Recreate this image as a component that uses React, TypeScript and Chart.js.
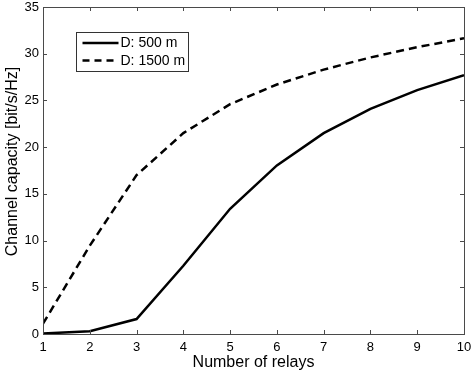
import React, { useEffect, useRef } from "react";
import { Chart, registerables } from "chart.js";

Chart.register(...registerables);

const relays = [1, 2, 3, 4, 5, 6, 7, 8, 9, 10];
const cap500 = [0.05, 0.3, 1.6, 7.3, 13.4, 18.05, 21.5, 24.1, 26.1, 27.7];
const cap1500 = [1.1, 9.45, 17.0, 21.5, 24.6, 26.7, 28.3, 29.6, 30.7, 31.65];
const seriesLabels = ["D: 500 m", "D: 1500 m"];
const xTitle = "Number of relays";
const yTitle = "Channel capacity [bit/s/Hz]";

const FONT = "'Liberation Sans', Arial, Helvetica, sans-serif";
const AXIS = "#4a4a4a";

const framePlugin = {
  id: "frame",
  afterDraw(chart: any) {
    const { ctx, chartArea: a, scales } = chart;
    ctx.save();
    ctx.strokeStyle = AXIS;
    ctx.lineWidth = 1;
    ctx.strokeRect(Math.round(a.left) + 0.5, Math.round(a.top) + 0.5, Math.round(a.right - a.left), Math.round(a.bottom - a.top));
    const tl = 4;
    ctx.beginPath();
    scales.x.ticks.forEach((t: any) => {
      const px = Math.round(scales.x.getPixelForValue(t.value)) + 0.5;
      ctx.moveTo(px, a.bottom);
      ctx.lineTo(px, a.bottom - tl);
      ctx.moveTo(px, a.top);
      ctx.lineTo(px, a.top + tl);
    });
    scales.y.ticks.forEach((t: any) => {
      const py = Math.round(scales.y.getPixelForValue(t.value)) + 0.5;
      ctx.moveTo(a.left, py);
      ctx.lineTo(a.left + tl, py);
      ctx.moveTo(a.right, py);
      ctx.lineTo(a.right - tl, py);
    });
    ctx.stroke();

    // y-axis title (MATLAB places it slightly above the plot centre)
    ctx.save();
    ctx.translate(16.5, a.top + (a.bottom - a.top) / 2 - 9);
    ctx.rotate(-Math.PI / 2);
    ctx.fillStyle = "#000";
    ctx.font = `16px ${FONT}`;
    ctx.textAlign = "center";
    ctx.textBaseline = "alphabetic";
    ctx.fillText(yTitle, 0, 0);
    ctx.restore();

    // legend inside the plot
    const lx = Math.round(a.left + 33) + 0.5;
    const ly = Math.round(a.top + 25) + 0.5;
    const lw = 112;
    const lh = 39;
    ctx.fillStyle = "#fff";
    ctx.fillRect(lx, ly, lw, lh);
    ctx.strokeStyle = "#333";
    ctx.strokeRect(lx, ly, lw, lh);
    const rows = [
      { label: seriesLabels[0], dash: [] as number[] },
      { label: seriesLabels[1], dash: [7, 5] },
    ];
    rows.forEach((r, i) => {
      const y = ly + 10.5 + i * 17.5;
      ctx.beginPath();
      ctx.setLineDash(r.dash);
      ctx.strokeStyle = "#000";
      ctx.lineWidth = 2.5;
      ctx.moveTo(lx + 6, y);
      ctx.lineTo(lx + 42, y);
      ctx.stroke();
      ctx.setLineDash([]);
      ctx.fillStyle = "#000";
      ctx.font = `14px ${FONT}`;
      ctx.textBaseline = "middle";
      ctx.textAlign = "left";
      ctx.fillText(r.label, lx + 44, y + 0.5);
    });
    ctx.restore();
  },
};

export default function App() {
  const ref = useRef<HTMLCanvasElement>(null);
  useEffect(() => {
    document.body.style.margin = "0";
    const chart = new Chart(ref.current!, {
      type: "line",
      data: {
        datasets: [
          {
            label: seriesLabels[0],
            data: relays.map((x, i) => ({ x, y: cap500[i] })),
            borderColor: "#000",
            borderWidth: 2.5,
            pointRadius: 0,
            tension: 0,
          },
          {
            label: seriesLabels[1],
            data: relays.map((x, i) => ({ x, y: cap1500[i] })),
            borderColor: "#000",
            borderWidth: 2.5,
            borderDash: [8, 5],
            pointRadius: 0,
            tension: 0,
          },
        ],
      },
      options: {
        animation: false,
        responsive: false,
        devicePixelRatio: 1,
        layout: { padding: { top: 7, right: 10, left: 0, bottom: 0 } },
        plugins: { legend: { display: false }, tooltip: { enabled: false } },
        scales: {
          x: {
            type: "linear",
            min: 1,
            max: 10,
            grid: { display: false, drawTicks: false },
            border: { display: false },
            ticks: {
              stepSize: 1,
              autoSkip: false,
              maxRotation: 0,
              padding: 6,
              color: "#000",
              font: { family: FONT, size: 13 },
            },
            title: {
              display: true,
              text: xTitle,
              color: "#000",
              font: { family: FONT, size: 16 },
              padding: { top: 0, bottom: 0 },
            },
            afterFit: (s: any) => {
              s.height = 38;
              s.paddingLeft = 0;
              s.paddingRight = 0;
            },
          },
          y: {
            min: 0,
            max: 35,
            grid: { display: false, drawTicks: false },
            border: { display: false },
            ticks: {
              stepSize: 5,
              padding: 4,
              color: "#000",
              font: { family: FONT, size: 13 },
            },
            title: { display: false, text: yTitle },
            afterFit: (s: any) => {
              s.width = 43;
              s.paddingTop = 0;
              s.paddingBottom = 0;
            },
          },
        },
      },
      plugins: [framePlugin],
    });
    return () => chart.destroy();
  }, []);
  return (
    <div style={{ width: 474, height: 372 }}>
      <canvas ref={ref} width={474} height={372} style={{ display: "block" }} />
    </div>
  );
}
